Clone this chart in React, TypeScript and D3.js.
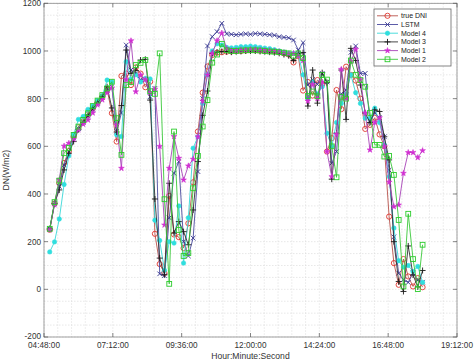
import React from "react";
import * as d3 from "d3";

// time stamps every 10 minutes, 05:00 .. 18:00 (minutes from midnight)
const timeLabels = [
  "05:00","05:10","05:20","05:30","05:40","05:50","06:00","06:10","06:20","06:30",
  "06:40","06:50","07:00","07:10","07:20","07:30","07:40","07:50","08:00","08:10",
  "08:20","08:30","08:40","08:50","09:00","09:10","09:20","09:30","09:40","09:50",
  "10:00","10:10","10:20","10:30","10:40","10:50","11:00","11:10","11:20","11:30",
  "11:40","11:50","12:00","12:10","12:20","12:30","12:40","12:50","13:00","13:10",
  "13:20","13:30","13:40","13:50","14:00","14:10","14:20","14:30","14:40","14:50",
  "15:00","15:10","15:20","15:30","15:40","15:50","16:00","16:10","16:20","16:30",
  "16:40","16:50","17:00","17:10","17:20","17:30","17:40","17:50","18:00"
];

const trueDNI = [250,360,445,530,580,640,680,705,735,760,785,808,838,739,620,895,905,857,931,905,848,871,233,106,68,392,230,219,173,277,449,662,825,935,983,993,995,997,998,1000,1000,1002,1003,1003,1002,1000,1000,998,995,990,985,952,979,834,870,813,878,860,578,634,836,756,934,900,876,800,673,690,720,650,600,305,110,19,127,54,12,47,9];
const lstm = [254,362,432,522,575,635,675,700,728,755,780,805,835,850,662,740,1025,920,905,880,880,808,843,65,57,300,487,536,200,140,215,494,800,1021,1060,1081,1116,1072,1070,1068,1070,1072,1070,1073,1072,1070,1068,1066,1060,1057,1055,1046,1004,1035,857,880,860,906,870,529,578,820,836,994,1021,906,906,700,740,720,640,500,220,68,40,29,69,38,30];
const model4 = [157,199,295,440,560,650,713,725,755,769,792,812,878,870,648,641,955,882,900,870,885,883,290,205,80,200,194,350,110,300,592,640,780,900,1000,1030,1025,1015,1013,1015,1018,1018,1020,1018,1015,1012,1010,1005,1000,995,990,990,985,900,800,870,820,850,655,600,700,780,820,900,825,780,718,718,760,700,606,473,257,120,93,100,75,96,29];
const model3 = [254,360,417,501,571,620,670,700,730,758,783,808,850,761,660,771,1004,906,918,962,965,794,379,131,61,445,236,284,242,187,333,536,730,832,990,995,998,997,995,997,998,1000,1000,1000,998,997,995,993,990,985,980,960,990,993,769,920,781,909,867,462,655,920,713,1011,960,857,740,700,753,746,640,543,200,33,-9,182,60,10,79];
const model1 = [250,355,460,601,613,630,669,693,711,740,774,795,825,845,690,508,880,1043,829,900,880,825,840,600,270,508,641,550,459,518,546,640,790,900,990,1043,1075,1010,1003,1003,1005,1005,1007,1007,1005,1003,1002,1000,997,993,988,990,980,960,790,860,800,870,578,473,650,923,800,955,1007,880,740,585,700,720,600,450,347,354,487,574,574,553,582];
const model2 = [254,366,456,571,593,648,683,711,739,769,792,815,843,871,718,564,857,869,941,950,962,831,820,990,378,23,662,249,140,152,424,560,683,794,951,985,1030,1003,1000,1000,1002,1003,1003,1003,1002,1000,998,997,995,993,990,980,990,970,811,830,810,899,880,600,470,808,800,960,900,878,850,740,606,606,557,560,480,291,12,317,127,1,187];

const xTickMinutes = [288, 432, 576, 720, 864, 1008, 1152];
const xTickLabels = ["04:48:00","07:12:00","09:36:00","12:00:00","14:24:00","16:48:00","19:12:00"];
const yTicks = [-200, 0, 200, 400, 600, 800, 1000, 1200];

const seriesNames = ["true DNI", "LSTM", "Model 4", "Model 3", "Model 1", "Model 2"];
const seriesData = [trueDNI, lstm, model4, model3, model1, model2];

const styles = [
  { color: "#e0352e", line: "#b8524c", symbol: "circle", fill: "none" },
  { color: "#34348f", line: "#4a4a9e", symbol: "x", fill: "none" },
  { color: "#30dede", line: "#3ad8d8", symbol: "dot", fill: "#30dede" },
  { color: "#1a1a1a", line: "#333333", symbol: "plus", fill: "none" },
  { color: "#d22fd2", line: "#a844b8", symbol: "star", fill: "#d22fd2" },
  { color: "#2ccc2c", line: "#3ac83a", symbol: "square", fill: "none" },
];

function toMinutes(s: string) {
  const [h, m] = s.split(":").map(Number);
  return h * 60 + m;
}

const L = 44, R = 457, T = 3.3, B = 337;

function Marker({ type, x, y, color, fill }: any) {
  const sw = 0.9;
  if (type === "circle") return <circle cx={x} cy={y} r={2.6} fill="none" stroke={color} strokeWidth={sw} />;
  if (type === "dot") return <circle cx={x} cy={y} r={2.2} fill={fill} stroke={color} strokeWidth={0.6} />;
  if (type === "square") return <rect x={x - 2.4} y={y - 2.4} width={4.8} height={4.8} fill="none" stroke={color} strokeWidth={sw} />;
  if (type === "plus") return <path d={`M${x - 3},${y}H${x + 3}M${x},${y - 3}V${y + 3}`} stroke={color} strokeWidth={sw} />;
  if (type === "x") return <path d={`M${x - 2.3},${y - 2.3}L${x + 2.3},${y + 2.3}M${x - 2.3},${y + 2.3}L${x + 2.3},${y - 2.3}`} stroke={color} strokeWidth={sw} />;
  const p = d3.symbol().type(d3.symbolStar).size(10)();
  return <path d={p as string} transform={`translate(${x},${y})`} fill={fill} stroke={color} strokeWidth={0.6} />;
}

export default function App() {
  const x = d3.scaleLinear().domain([288, 1152]).range([L, R]);
  const y = d3.scaleLinear().domain([-200, 1200]).range([B, T]);
  const times = timeLabels.map(toMinutes);

  const line = d3.line<number>().x((_, i) => x(times[i])).y((v) => y(v));

  const xMinor = d3.range(0, 31).map((k) => 288 + k * 28.8);
  const yMinor = d3.range(-200, 1201, 50);

  const font = "'Liberation Sans', Arial, Helvetica, sans-serif";

  return (
    <svg width={474} height={363} style={{ position: "fixed", left: 0, top: 0, background: "#fff" }}>
      <rect x={0} y={0} width={474} height={363} fill="#fff" />
      {/* grid */}
      <g stroke="#d8d8d8" strokeWidth={0.6} strokeDasharray="1.5,1.5">
        {xMinor.map((m, k) => (
          <line key={"xv" + k} x1={x(m)} x2={x(m)} y1={T} y2={B} />
        ))}
        {yMinor.map((v, k) => (
          <line key={"yh" + k} x1={L} x2={R} y1={y(v)} y2={y(v)} />
        ))}
      </g>
      {/* series */}
      {seriesData.map((data, si) => (
        <g key={si}>
          <path d={line(data) as string} fill="none" stroke={styles[si].line} strokeWidth={0.9} />
          {data.map((v, i) => (
            <Marker key={i} type={styles[si].symbol} x={x(times[i])} y={y(v)} color={styles[si].color} fill={styles[si].fill} />
          ))}
        </g>
      ))}
      {/* frame */}
      <rect x={L} y={T} width={R - L} height={B - T} fill="none" stroke="#8a8a8a" strokeWidth={0.8} />
      {/* ticks */}
      <g stroke="#555" strokeWidth={0.7}>
        {xTickMinutes.map((m, k) => (
          <g key={"xt" + k}>
            <line x1={x(m)} x2={x(m)} y1={B} y2={B - 4} />
            <line x1={x(m)} x2={x(m)} y1={T} y2={T + 4} />
          </g>
        ))}
        {yTicks.map((v, k) => (
          <g key={"yt" + k}>
            <line x1={L} x2={L + 4} y1={y(v)} y2={y(v)} />
            <line x1={R} x2={R - 4} y1={y(v)} y2={y(v)} />
          </g>
        ))}
      </g>
      {/* tick labels */}
      <g fontFamily={font} fontSize={8.2} fill="#333">
        {xTickMinutes.map((m, k) => (
          <text key={"xl" + k} x={x(m)} y={B + 10.5} textAnchor="middle">{xTickLabels[k]}</text>
        ))}
        {yTicks.map((v, k) => (
          <text key={"yl" + k} x={L - 3} y={y(v) + (v === -200 ? 2 : 3)} textAnchor="end">{v}</text>
        ))}
        <text x={(L + R) / 2} y={359} textAnchor="middle" fontSize={8.6}>Hour:Minute:Second</text>
        <text transform={`translate(9,${(T + B) / 2}) rotate(-90)`} textAnchor="middle" fontSize={8.6}>DN(W/m2)</text>
      </g>
      {/* legend */}
      <g>
        <rect x={374} y={9} width={77} height={57} fill="#fff" stroke="#666" strokeWidth={0.8} />
        {seriesNames.map((name, si) => {
          const yy = 15.8 + si * 8.7;
          return (
            <g key={"lg" + si}>
              <line x1={377} x2={398} y1={yy} y2={yy} stroke={styles[si].line} strokeWidth={0.9} />
              <Marker type={styles[si].symbol} x={387.5} y={yy} color={styles[si].color} fill={styles[si].fill} />
              <text x={401} y={yy + 2.5} fontFamily={font} fontSize={7} fill="#222">{name}</text>
            </g>
          );
        })}
      </g>
    </svg>
  );
}
